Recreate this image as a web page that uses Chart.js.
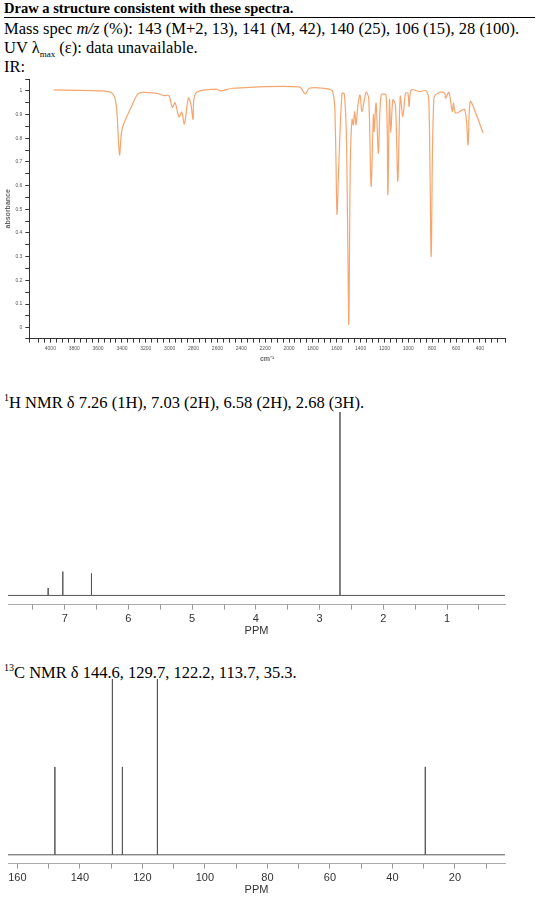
<!DOCTYPE html>
<html><head><meta charset="utf-8">
<script src="https://cdn.jsdelivr.net/npm/chart.js@4"></script>
<style>
body{margin:0;width:539px;height:901px;position:relative;font-family:"Liberation Serif",serif;font-size:16.5px;background:#fff;overflow:hidden}
.t{position:absolute;left:4px;white-space:nowrap;line-height:19px}
.c{position:absolute;left:0}
</style></head><body>
<div class="t" style="top:0;left:4px;width:531px;font-size:14.5px;font-weight:bold;border-bottom:1px solid #000;line-height:17px">Draw a structure consistent with these spectra.</div>
<div class="t" style="top:19px">Mass spec <i>m/z</i> (%): 143 (M+2, 13), 141 (M, 42), 140 (25), 106 (15), 28 (100).</div>
<div class="t" style="top:38px">UV λ<sub style="font-size:9px">max</sub> (ε): data unavailable.</div>
<div class="t" style="top:57px">IR:</div>
<div class="t" style="top:388px"><sup style="font-size:10px">1</sup>H NMR δ 7.26 (1H), 7.03 (2H), 6.58 (2H), 2.68 (3H).</div>
<div class="t" style="top:658px"><sup style="font-size:10px">13</sup>C NMR δ 144.6, 129.7, 122.2, 113.7, 35.3.</div>
<div class="c" style="top:73px;width:539px;height:290px"><canvas id="ir"></canvas></div>
<div class="c" style="top:412px;width:539px;height:230px"><canvas id="hn"></canvas></div>
<div class="c" style="top:679px;width:539px;height:222px"><canvas id="cn"></canvas></div>
<script>
// IR trace
const irWave = [3972,3594,3482,3448,3420,3398,3314,3258,3118,3048,3006,2978,2955,2922,2899,2877,2843,2821,2804,2782,2614,2572,2474,1914,1864,1830,1718,1634,1612,1598,1584,1556,1536,1517,1500,1486,1472,1461,1450,1438,1424,1405,1388,1354,1332,1312,1293,1287,1270,1251,1228,1186,1172,1158,1147,1130,1108,1088,1068,1046,1024,1004,993,976,906,850,828,808,786,738,696,688,660,632,621,604,528,500,481,430,374];
const irAbs = [1.004,1.0,0.99,0.94,0.73,0.84,0.94,0.99,0.99,0.98,0.98,0.93,0.95,0.89,0.91,0.86,0.97,0.94,0.88,0.99,1.007,1.0,1.011,1.017,0.987,1.011,1.011,0.997,0.84,0.48,0.67,0.99,0.986,0.77,0.014,0.70,0.88,0.857,0.913,0.857,0.934,0.983,0.913,0.994,0.969,0.597,0.899,0.829,0.948,0.737,0.983,0.983,0.562,0.962,0.822,0.962,0.941,0.618,0.976,0.892,0.99,0.99,0.934,1.004,0.997,1.0,0.955,0.30,0.969,0.994,0.99,0.969,0.994,0.913,0.948,0.906,0.92,0.772,0.955,0.899,0.822];

// 1H NMR sticks (ppm, relative height)
const hPpm = [7.26, 7.03, 6.58, 2.68];
const hHeight = [0.04, 0.13, 0.12, 1];

// 13C NMR sticks as drawn (ppm, relative height)
const cPpm = [148.0, 129.6, 126.4, 115.2, 29.5];
const cHeight = [0.5, 1, 0.5, 1, 0.5];

Chart.defaults.animation = false;
Chart.defaults.maintainAspectRatio = false;
Chart.defaults.plugins.legend.display = false;
Chart.defaults.plugins.tooltip.enabled = false;
Chart.defaults.font.family = 'Arial, "Liberation Sans", sans-serif';

new Chart(document.getElementById('ir'), {
  type: 'scatter',
  data: {datasets: [{
    data: irWave.map((w, i) => ({x: w, y: irAbs[i]})),
    showLine: true, borderColor: 'rgb(247,165,110)', borderWidth: 1.2, pointRadius: 0, tension: 0.3
  }]},
  options: {
    layout: {padding: {left: 4, right: 34, top: 0, bottom: 0}},
    scales: {
      x: {reverse: true, min: 190, max: 4176,
        title: {display: true, text: 'cm⁻¹', font: {size: 7, weight: 'bold'}, padding: 0},
        grid: {drawOnChartArea: false, tickLength: 4, color: '#333'},
        border: {color: '#333'},
        ticks: {stepSize: 50, autoSkip: false, maxRotation: 0, font: {size: 5}, color: '#555',
          callback: v => v % 200 === 0 && v >= 400 && v <= 4000 ? v : ''}},
      y: {min: -0.046, max: 1.05,
        title: {display: true, text: 'absorbance', font: {size: 7, weight: 'bold'}, padding: 0},
        grid: {drawOnChartArea: false, tickLength: 4, color: '#333'},
        border: {color: '#333'},
        ticks: {stepSize: 0.05, autoSkip: false, font: {size: 5}, color: '#555',
          callback: v => Math.abs(v * 10 - Math.round(v * 10)) < 1e-6 && v >= 0 ? (Math.round(v * 10) / 10) : ''}}
    }
  }
});

function nmr(id, ppm, h, min, max, step, labelEvery) {
  // each stick goes up from the baseline and back down
  const order = ppm.map((p, i) => i).sort((a, b) => ppm[b] - ppm[a]);
  const seq = [{x: max, y: 0}];
  order.forEach(i => seq.push({x: ppm[i], y: 0}, {x: ppm[i], y: h[i]}, {x: ppm[i], y: 0}));
  seq.push({x: min, y: 0});
  new Chart(document.getElementById(id), {
    type: 'scatter',
    data: {datasets: [{data: seq, showLine: true, borderColor: '#555', borderWidth: 1, pointRadius: 0}]},
    options: {
      layout: {padding: {left: 8, right: 34, top: 0, bottom: 0}},
      scales: {
        x: {reverse: true, min: min, max: max,
          title: {display: true, text: 'PPM', font: {size: 11}, color: '#333', padding: {top: -4}},
          grid: {drawOnChartArea: false, tickLength: 5, color: '#999'},
          border: {color: '#aaa'},
          ticks: {stepSize: step, autoSkip: false, maxRotation: 0, font: {size: 11}, color: '#333', includeBounds: false,
            callback: v => Math.abs(v % labelEvery) < 1e-6 ? v : ''}},
        y: {display: false, min: -0.05, max: 1}
      }
    }
  });
}
nmr('hn', hPpm, hHeight, 0.09, 7.89, 0.5, 1);
nmr('cn', cPpm, cHeight, 4, 163, 10, 20);
</script>
</body></html>
